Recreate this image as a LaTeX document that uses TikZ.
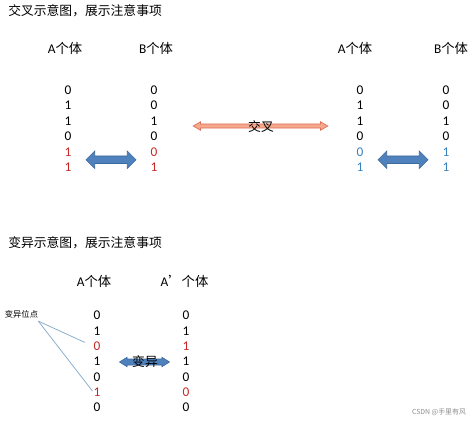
\documentclass[tikz,border=0pt]{standalone}
\usepackage{fontspec}
\setmainfont{Carlito}
\newfontfamily\cjk{Noto Sans CJK SC}
\usetikzlibrary{shapes.arrows,calc}

\definecolor{bitred}{HTML}{C62828}
\definecolor{bitblue}{HTML}{3A82BE}
\definecolor{swapfill}{HTML}{4F81BD}
\definecolor{swapedge}{HTML}{3C6A9C}
\definecolor{crossfill}{HTML}{F4A88C}
\definecolor{crossedge}{HTML}{DE6E57}
\definecolor{pointer}{HTML}{8CAECB}

\tikzset{
    title/.style={font=\cjk\fontsize{9.6}{11}\selectfont, anchor=west, inner sep=0pt},
    head/.style={font=\fontsize{10}{12}\selectfont, inner sep=0pt},
    bit/.style={font=\fontsize{10}{12}\selectfont, inner sep=0pt},
    swaparrow/.style={double arrow, fill=swapfill, draw=swapedge, line width=0.5pt,
        inner xsep=0pt, inner ysep=2.6pt, minimum width=0pt, minimum height=37.5pt,
        double arrow head extend=3.7pt, double arrow tip angle=90},
    crossarrow/.style={double arrow, fill=crossfill, draw=crossedge, line width=0.5pt,
        inner xsep=0pt, inner ysep=1.3pt, minimum width=0pt, minimum height=101pt,
        double arrow head extend=1.6pt, double arrow tip angle=60},
    tagline/.style={pointer, line width=0.6pt}
}

\begin{document}
\begin{tikzpicture}[x=0.75pt,y=-0.75pt]
    \newcommand{\rowstep}{15.5}
    \newcommand{\mutstep}{15.3}
    \useasboundingbox (0,0) rectangle (474,422);

    % Draw titles
    \node[title] (t1) at (8,11) {交叉示意图，展示注意事项};
    \node[title] (t2) at (8,243) {变异示意图，展示注意事项};

    % Draw crossover headers
    \node[head] (hA) at (65,48) {A\cjk 个体};
    \node[head] (hB) at (156,48) {B\cjk 个体};
    \node[head] (hC) at (355,48) {A\cjk 个体};
    \node[head] (hD) at (451,48) {B\cjk 个体};

    % Draw crossover bits
    \foreach \v/\c [count=\i] in {0/black,1/black,1/black,0/black,1/bitred,1/bitred} {
        \node[bit, text=\c] (a\i) at (68,74.5+\i*\rowstep) {\v};
    }
    \foreach \v/\c [count=\i] in {0/black,0/black,1/black,0/black,0/bitred,1/bitred} {
        \node[bit, text=\c] (b\i) at (154,74.5+\i*\rowstep) {\v};
    }
    \foreach \v/\c [count=\i] in {0/black,1/black,1/black,0/black,0/bitblue,1/bitblue} {
        \node[bit, text=\c] (c\i) at (360,74.5+\i*\rowstep) {\v};
    }
    \foreach \v/\c [count=\i] in {0/black,0/black,1/black,0/black,1/bitblue,1/bitblue} {
        \node[bit, text=\c] (d\i) at (446,74.5+\i*\rowstep) {\v};
    }

    % Draw crossover arrows
    \node[swaparrow] (swapL) at ($(a5)!0.5!(b6)$) {};
    \node[swaparrow] (swapR) at ($(c5)!0.5!(d6)$) {};
    \node[crossarrow] (cross) at (260.5,126) {};
    \node[head, font=\cjk\fontsize{9.6}{11}\selectfont] (crosslbl) at (261,127) {交叉};

    % Draw mutation headers
    \node[head] (hM) at (94,281) {A\cjk 个体};
    \node[head] (hN) at (184.5,281) {A{\cjk ’个体}};

    % Draw mutation bits
    \foreach \v/\c [count=\i] in {0/black,1/black,0/bitred,1/black,0/black,1/bitred,0/black} {
        \node[bit, text=\c] (m\i) at (97,300.4+\i*\mutstep) {\v};
    }
    \foreach \v/\c [count=\i] in {0/black,1/black,1/bitred,1/black,0/black,0/bitred,0/black} {
        \node[bit, text=\c] (n\i) at (186,300.4+\i*\mutstep) {\v};
    }

    % Draw mutation arrow
    \node[swaparrow, minimum height=37.5pt, inner ysep=2pt, double arrow head extend=1.3pt,
        double arrow tip angle=64] (mut) at (144.5,362) {};
    \node[head, font=\cjk\fontsize{9.6}{11}\selectfont] (mutlbl) at (145,361.5) {变异};

    % Draw mutation site pointers
    \node[head, font=\cjk\fontsize{6.2}{7}\selectfont] (tag) at (21.5,314) {变异位点};
    \coordinate (tagfoot) at ($(tag.south east)+(0,3)$);
    \draw[tagline, shorten >=7pt] (tagfoot) -- (m3.west);
    \draw[tagline, shorten >=1pt] (tagfoot) -- (m6.west);

    % Draw watermark
    \node[head, font=\cjk\fontsize{5.2}{6}\selectfont, text=black!45] (wm) at (439,412) {CSDN @手里有风};
\end{tikzpicture}
\end{document}
